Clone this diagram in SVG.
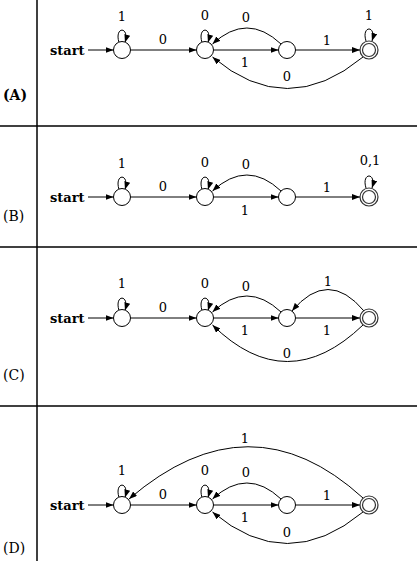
<svg xmlns="http://www.w3.org/2000/svg" width="417" height="561" viewBox="0 0 417 561">
<style>
.st{fill:#fff;stroke:#000;stroke-width:1}
.acc{fill:#fff;stroke:#333;stroke-width:1.2}
.e{fill:none;stroke:#000;stroke-width:1;marker-end:url(#ah)}
.l{font-family:"DejaVu Serif","Liberation Serif",serif;font-size:13px;text-anchor:middle;fill:#000}
.s{font-family:"DejaVu Serif","Liberation Serif",serif;font-size:13px;font-weight:bold;fill:#000}
.p{font-family:"DejaVu Serif","Liberation Serif",serif;font-size:14px;fill:#000}
.div{stroke:#000;stroke-width:1.5}
</style>
<defs>
<marker id="ah" markerUnits="userSpaceOnUse" markerWidth="8" markerHeight="6" refX="8" refY="3" orient="auto">
<path d="M0,0 L8,3 L0,6 z" fill="#000"/>
</marker>
</defs>
<g id="frame">
<line class="div" x1="37" y1="0" x2="37" y2="561"/>
<line class="div" x1="0" y1="126" x2="417" y2="126"/>
<line class="div" x1="0" y1="247" x2="417" y2="247"/>
<line class="div" x1="0" y1="406" x2="417" y2="406"/>
<text class="p" x="3" y="100" font-weight="bold">(A)</text>
<text class="p" x="3" y="221">(B)</text>
<text class="p" x="3" y="380">(C)</text>
<text class="p" x="3" y="553">(D)</text>
</g>

<!-- Panel A -->
<g id="connectors-A">
<path class="e" d="M88,50 L113.5,50"/>
<path class="e" d="M130.5,50 L196.5,50"/>
<path class="e" d="M213.5,50 L278.5,50"/>
<path class="e" d="M295.5,50 L360,50"/>
<path class="e" d="M281,44 Q247,12 212.5,44"/>
<path class="e" d="M363,57 Q287,120 212.5,57"/>
<path class="e" d="M119,42.5 C114,26 130,26 125,42.5"/>
<path class="e" d="M202,42.5 C197,26 213,26 208,42.5"/>
<path class="e" d="M366,41 C361,25 377,25 372,41"/>
<text class="s" x="50" y="55">start</text>
<text class="l" x="122" y="21">1</text>
<text class="l" x="163" y="44">0</text>
<text class="l" x="205" y="20">0</text>
<text class="l" x="246" y="22">0</text>
<text class="l" x="245" y="67">1</text>
<text class="l" x="327" y="45">1</text>
<text class="l" x="287" y="81">0</text>
<text class="l" x="369" y="20">1</text>
</g>
<g id="A-q0"><circle class="st" cx="122" cy="50" r="8.5"/></g>
<g id="A-q1"><circle class="st" cx="205" cy="50" r="8.5"/></g>
<g id="A-q2"><circle class="st" cx="287" cy="50" r="8.5"/></g>
<g id="A-q3"><circle class="acc" cx="369" cy="50" r="9"/><circle class="acc" cx="369" cy="50" r="6.5"/></g>

<!-- Panel B -->
<g id="connectors-B">
<path class="e" d="M88,197 L113.5,197"/>
<path class="e" d="M130.5,197 L196.5,197"/>
<path class="e" d="M213.5,197 L278.5,197"/>
<path class="e" d="M295.5,197 L360,197"/>
<path class="e" d="M281,191 Q247,159 212.5,191"/>
<path class="e" d="M119,189.5 C114,173 130,173 125,189.5"/>
<path class="e" d="M202,189.5 C197,173 213,173 208,189.5"/>
<path class="e" d="M366,188 C361,172 377,172 372,188"/>
<text class="s" x="50" y="202">start</text>
<text class="l" x="122" y="168">1</text>
<text class="l" x="163" y="191">0</text>
<text class="l" x="205" y="167">0</text>
<text class="l" x="246" y="169">0</text>
<text class="l" x="245" y="215">1</text>
<text class="l" x="327" y="192">1</text>
<text class="l" x="370" y="165">0,1</text>
</g>
<g id="B-q0"><circle class="st" cx="122" cy="197" r="8.5"/></g>
<g id="B-q1"><circle class="st" cx="205" cy="197" r="8.5"/></g>
<g id="B-q2"><circle class="st" cx="287" cy="197" r="8.5"/></g>
<g id="B-q3"><circle class="acc" cx="369" cy="197" r="9"/><circle class="acc" cx="369" cy="197" r="6.5"/></g>

<!-- Panel C -->
<g id="connectors-C">
<path class="e" d="M88,318 L113.5,318"/>
<path class="e" d="M130.5,318 L196.5,318"/>
<path class="e" d="M213.5,318 L278.5,318"/>
<path class="e" d="M295.5,318 L360,318"/>
<path class="e" d="M281,312 Q247,280 212.5,312"/>
<path class="e" d="M364,311 Q328,268 292,311"/>
<path class="e" d="M363,325 Q287,398 212.5,325"/>
<path class="e" d="M119,310.5 C114,294 130,294 125,310.5"/>
<path class="e" d="M202,310.5 C197,294 213,294 208,310.5"/>
<text class="s" x="50" y="323">start</text>
<text class="l" x="122" y="288">1</text>
<text class="l" x="163" y="312">0</text>
<text class="l" x="205" y="288">0</text>
<text class="l" x="246" y="291">0</text>
<text class="l" x="328" y="286">1</text>
<text class="l" x="245" y="335">1</text>
<text class="l" x="327" y="335">1</text>
<text class="l" x="287" y="358">0</text>
</g>
<g id="C-q0"><circle class="st" cx="122" cy="318" r="8.5"/></g>
<g id="C-q1"><circle class="st" cx="205" cy="318" r="8.5"/></g>
<g id="C-q2"><circle class="st" cx="287" cy="318" r="8.5"/></g>
<g id="C-q3"><circle class="acc" cx="369" cy="318" r="9"/><circle class="acc" cx="369" cy="318" r="6.5"/></g>

<!-- Panel D -->
<g id="connectors-D">
<path class="e" d="M88,505 L113.5,505"/>
<path class="e" d="M130.5,505 L196.5,505"/>
<path class="e" d="M213.5,505 L278.5,505"/>
<path class="e" d="M295.5,505 L360,505"/>
<path class="e" d="M281,499 Q247,467 212.5,499"/>
<path class="e" d="M363,498 Q250,395 129,499"/>
<path class="e" d="M363,512 Q287,575 212.5,512"/>
<path class="e" d="M119,497.5 C114,481 130,481 125,497.5"/>
<path class="e" d="M202,497.5 C197,481 213,481 208,497.5"/>
<text class="s" x="50" y="510">start</text>
<text class="l" x="245" y="443">1</text>
<text class="l" x="122" y="475">1</text>
<text class="l" x="163" y="499">0</text>
<text class="l" x="205" y="475">0</text>
<text class="l" x="246" y="477">0</text>
<text class="l" x="245" y="522">1</text>
<text class="l" x="327" y="500">1</text>
<text class="l" x="287" y="537">0</text>
</g>
<g id="D-q0"><circle class="st" cx="122" cy="505" r="8.5"/></g>
<g id="D-q1"><circle class="st" cx="205" cy="505" r="8.5"/></g>
<g id="D-q2"><circle class="st" cx="287" cy="505" r="8.5"/></g>
<g id="D-q3"><circle class="acc" cx="369" cy="505" r="9"/><circle class="acc" cx="369" cy="505" r="6.5"/></g>
</svg>
